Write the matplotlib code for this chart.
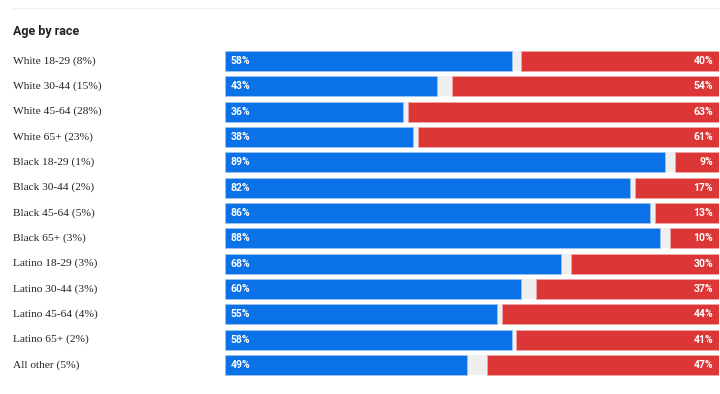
import matplotlib.pyplot as plt
from matplotlib.lines import Line2D
import numpy as np

groups = ['White 18-29 (8%)', 'White 30-44 (15%)', 'White 45-64 (28%)', 'White 65+ (23%)',
          'Black 18-29 (1%)', 'Black 30-44 (2%)', 'Black 45-64 (5%)', 'Black 65+ (3%)',
          'Latino 18-29 (3%)', 'Latino 30-44 (3%)', 'Latino 45-64 (4%)', 'Latino 65+ (2%)',
          'All other (5%)']
dem = [58, 43, 36, 38, 89, 82, 86, 88, 68, 60, 55, 58, 49]
rep = [40, 54, 63, 61, 9, 17, 13, 10, 30, 37, 44, 41, 47]

BLUE = '#0B71E6'
RED = '#DD3636'
GRAY = '#EFEFEF'
SANS = ['Roboto', 'DejaVu Sans']

fig = plt.figure(figsize=(7.2, 3.94), dpi=100)
ax = fig.add_axes([225 / 720, 1 - 377.7 / 394, 494 / 720, 329.4 / 394])

y = np.arange(len(groups))
h = 0.79
ax.barh(y, 100, height=h, color=GRAY, edgecolor='none')
ax.barh(y, dem, height=h, color=BLUE, edgecolor='#9cc4f2', linewidth=0.6)
ax.barh(y, rep, left=[100 - r for r in rep], height=h, color=RED,
        edgecolor='#f0a8a6', linewidth=0.6)

for i in range(len(groups)):
    ax.text(1.2, i, f'{dem[i]}%', color='white', fontsize=7.5, fontweight='bold',
            va='center', ha='left', family=SANS)
    ax.text(98.8, i, f'{rep[i]}%', color='white', fontsize=7.5, fontweight='bold',
            va='center', ha='right', family=SANS)
    fig.text(13 / 720, 1 - (61 + 25.33 * i) / 394, groups[i], fontsize=8.2,
             family='Liberation Serif', color='#222222', va='center', ha='left')

ax.set_xlim(0, 100)
ax.set_ylim(len(groups) - 0.5, -0.5)
ax.axis('off')

fig.text(13 / 720, 1 - 32 / 394, 'Age by race', fontsize=9, fontweight='bold',
         color='#222222', va='center', ha='left', family=SANS)
fig.add_artist(Line2D([13 / 720, 1], [1 - 8 / 394, 1 - 8 / 394], color='#eeeeee',
                      linewidth=0.8))

plt.savefig('out.png', dpi=100)
